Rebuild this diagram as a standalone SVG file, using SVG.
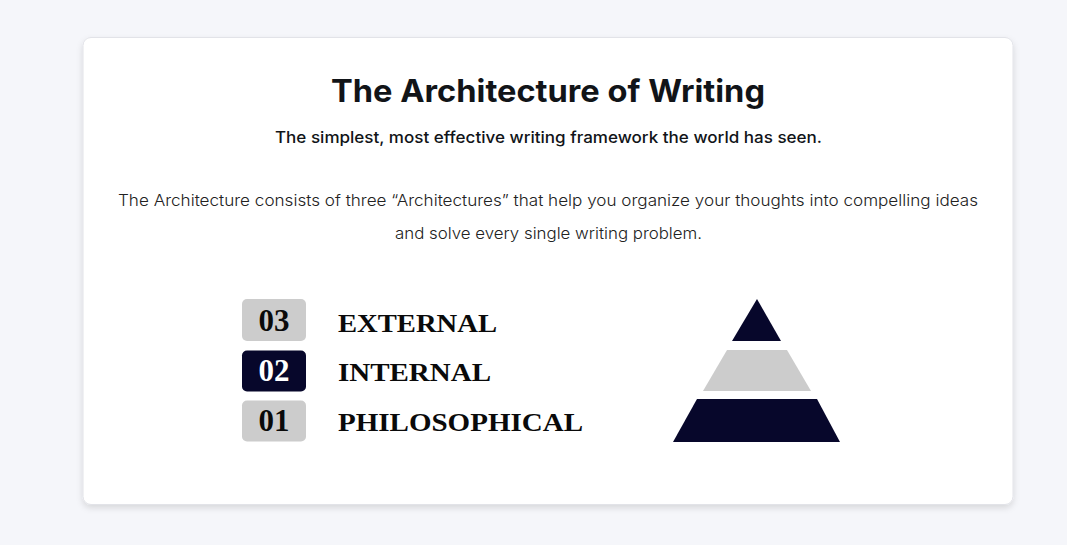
<svg xmlns="http://www.w3.org/2000/svg" width="1067" height="545" viewBox="0 0 1067 545">
<style>
.title{font-family:"Inter","Open Sans",sans-serif;font-weight:700;font-size:31px;fill:#111418}
.sub{font-family:"Inter","Open Sans",sans-serif;font-weight:500;font-size:16px;fill:#111418}
.body{font-family:"Inter","Open Sans",sans-serif;font-weight:300;font-size:16px;fill:#222}
.num{font-family:"Liberation Serif",serif;font-weight:700;font-size:31px}
.lab{font-family:"Liberation Serif",serif;font-weight:700;font-size:26px;fill:#0a0a0a}
.gray{fill:#cccccc}
.navy{fill:#07072b}
</style>
<defs>
<filter id="sh" x="-5%" y="-5%" width="110%" height="115%">
<feDropShadow dx="0" dy="3" stdDeviation="3" flood-color="#000" flood-opacity="0.12"/>
</filter>
</defs>
<rect width="1067" height="545" fill="#f5f6fa"/>
<rect x="83" y="37.5" width="930" height="467" rx="8" fill="#ffffff" stroke="#e2e3e8" stroke-width="1" filter="url(#sh)"/>
<g id="header">
<text class="title" x="331" y="102" textLength="434" lengthAdjust="spacingAndGlyphs">The Architecture of Writing</text>
<text class="sub" x="275" y="143" textLength="547" lengthAdjust="spacingAndGlyphs">The simplest, most effective writing framework the world has seen.</text>
<text class="body" x="118" y="206" textLength="860" lengthAdjust="spacingAndGlyphs">The Architecture consists of three “Architectures” that help you organize your thoughts into compelling ideas</text>
<text class="body" x="395" y="239" textLength="307" lengthAdjust="spacingAndGlyphs">and solve every single writing problem.</text>
</g>
<g id="row-03">
<rect class="gray" x="242" y="299" width="64" height="42" rx="5"/>
<text class="num" x="274" y="331" text-anchor="middle" fill="#0a0a0a">03</text>
<text class="lab" x="338" y="332" textLength="159" lengthAdjust="spacingAndGlyphs">EXTERNAL</text>
</g>
<g id="row-02">
<rect class="navy" x="242" y="350.5" width="64" height="41" rx="5"/>
<text class="num" x="274" y="381" text-anchor="middle" fill="#ffffff">02</text>
<text class="lab" x="338" y="381" textLength="153" lengthAdjust="spacingAndGlyphs">INTERNAL</text>
</g>
<g id="row-01">
<rect class="gray" x="242" y="400.5" width="64" height="41" rx="5"/>
<text class="num" x="274" y="431" text-anchor="middle" fill="#0a0a0a">01</text>
<text class="lab" x="338" y="431" textLength="245" lengthAdjust="spacingAndGlyphs">PHILOSOPHICAL</text>
</g>
<g id="pyramid">
<polygon class="navy" points="757,299 781,341 732,341"/>
<polygon class="gray" points="727,350 787,350 811,391 703,391"/>
<polygon class="navy" points="697,399 817,399 840,442 673,442"/>
</g>
</svg>
